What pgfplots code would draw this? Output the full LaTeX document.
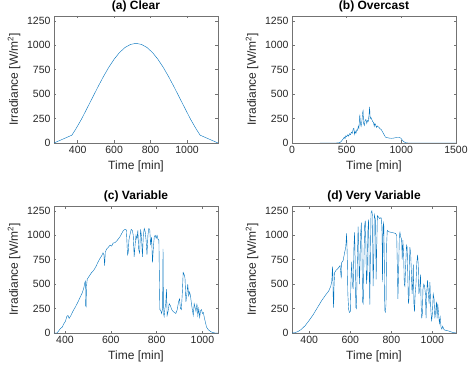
\documentclass[border=0pt]{standalone}
\usepackage{pgfplots}
\pgfplotsset{compat=1.18}
\usepackage{fontspec}
\setmainfont{Liberation Sans}
\definecolor{mblue}{rgb}{0,0.447,0.741}
\definecolor{axgray}{rgb}{0.15,0.15,0.15}
\pgfplotsset{mystyle/.style={
  scale only axis, width=164pt, height=127pt,
  ymin=0, ymax=1300, ytick={0,250,500,750,1000,1250},
  axis line style={draw=black!55, line width=0.5pt},
  tick style={draw=black!55, line width=0.5pt},
  major tick length=2.5pt,
  tick align=inside, xtick pos=both, ytick pos=both,
  ticklabel style={font=\fontsize{10.5}{10.5}\selectfont, text=axgray},
  /pgf/number format/assume math mode=true,
  /pgf/number format/1000 sep={},
  scaled ticks=false,
  label style={font=\fontsize{12}{12}\selectfont, text=axgray},
  title style={font=\bfseries\fontsize{12}{12}\selectfont, text=black, yshift=-6pt},
  xlabel={Time [min]}, ylabel={Irradiance [W/m\textsuperscript{2}]},
  cycle list={{mblue, line width=0.6pt, mark=none}},
  no markers,
  anchor=south west,
}}
\begin{document}
\begin{tikzpicture}
\useasboundingbox (0,0) rectangle (474pt,370pt);
% (a) Clear
\begin{axis}[mystyle, at={(54pt,227pt)}, xmin=270, xmax=1170, xtick={400,600,800,1000}, title={(a) Clear}]
\addplot coordinates {
(270,0) (368,80) (390,144) (420,241) (450,350) (480,460) (510,570) (540,676) (570,773)
(600,858) (630,927) (660,978) (690,1009) (720,1020) (750,1009) (780,978) (810,927)
(840,858) (870,773) (900,676) (930,570) (960,460) (990,350) (1020,241) (1050,144)
(1072,80) (1170,0)
};
\end{axis}
% (b) Overcast
\begin{axis}[mystyle, at={(292pt,227pt)}, xmin=0, xmax=1500, xtick={0,500,1000,1500}, title={(b) Overcast}]
\addplot coordinates {
(254,0) (300,0) (350,0) (400,0) (430,2) (445,10) (460,30) (470,45) (478,60) (485,45)
(492,75) (500,65) (510,85) (518,70) (526,95) (535,85) (543,110) (552,100) (560,145)
(566,150) (572,90) (578,120) (585,100) (592,135) (600,130) (606,170) (612,150) (620,290)
(626,200) (632,170) (640,230) (646,310) (650,330) (655,200) (662,180) (668,230) (676,240)
(684,200) (690,230) (697,220) (704,280) (710,370) (715,250) (722,260) (730,240) (738,220)
(746,210) (752,170) (758,200) (765,185) (772,160) (780,175) (788,165) (796,160) (805,145)
(815,140) (825,120) (835,100) (845,80) (855,60) (870,55) (890,50) (910,48) (930,50)
(950,55) (970,57) (985,55) (995,50) (1005,35) (1020,15) (1040,3) (1060,0) (1100,0)
(1200,0) (1300,0) (1400,0) (1500,0)
};
\end{axis}
% (c) Variable
\begin{axis}[mystyle, at={(54pt,37pt)}, xmin=352, xmax=1068, xtick={400,600,800,1000}, title={(c) Variable}]
\addplot coordinates {
(352,0) (365,0) (372,20) (380,45) (388,60) (395,95) (402,120) (408,170) (413,180) (418,150)
(425,175) (435,225) (445,265) (455,310) (465,360) (475,410) (482,460) (487,520) (489,530)
(490,280) (492,270) (494,480) (497,550) (505,580) (515,615) (525,640) (535,680) (545,730)
(552,760) (560,790) (566,820) (570,800) (573,690) (576,830) (582,860) (590,880) (597,900)
(604,890) (610,920) (618,925) (625,940) (632,960) (640,985) (648,1020) (655,1050) (662,1060)
(668,1055) (671,900) (673,800) (676,820) (679,950) (684,1010) (689,1060) (694,1050) (698,1000)
(702,780) (706,900) (710,1000) (714,960) (718,1050) (722,850) (726,820) (730,1060) (734,990)
(738,780) (742,1000) (746,1070) (750,1040) (754,950) (758,800) (762,1000) (766,1070) (770,1060)
(774,900) (778,980) (782,720) (786,880) (790,990) (794,1000) (798,970) (802,1000) (806,960)
(810,950) (814,240) (818,230) (822,200) (826,250) (828,860) (830,200) (833,170) (836,250)
(840,300) (843,450) (846,180) (850,220) (855,300) (860,280) (866,240) (872,220) (878,210)
(884,200) (890,240) (896,320) (900,350) (904,250) (908,240) (912,400) (916,620) (920,600)
(924,560) (928,320) (932,400) (936,500) (940,380) (944,420) (948,380) (952,300) (956,240)
(960,180) (964,300) (968,260) (972,220) (976,300) (980,180) (984,250) (988,160) (992,230)
(996,240) (1000,200) (1004,210) (1008,160) (1012,120) (1018,60) (1025,35) (1035,15) (1045,5)
(1055,0) (1068,0)
};
\end{axis}
% (d) Very Variable
\begin{axis}[mystyle, at={(292pt,37pt)}, xmin=316, xmax=1115, xtick={400,600,800,1000}, title={(d) Very Variable}]
\addplot coordinates {
(316,0) (330,3) (345,15) (360,35) (380,75) (400,130) (420,190) (440,260) (460,330) (480,390)
(495,430) (505,480) (510,530) (513,680) (515,600) (517,330) (519,260) (521,500) (524,620)
(530,640) (540,660) (550,690) (556,560) (558,720) (565,740) (572,820) (578,880) (582,1020)
(585,800) (588,400) (592,240) (596,210) (600,220) (604,600) (607,730) (610,500) (614,450)
(618,900) (621,1030) (624,700) (627,260) (630,250) (634,700) (638,1090) (641,900) (644,500)
(647,680) (650,1000) (654,1130) (657,800) (660,320) (663,300) (666,700) (670,1100) (673,1150)
(676,900) (679,500) (682,600) (686,1050) (689,1160) (692,700) (695,290) (698,800) (701,1230)
(705,1250) (708,1200) (711,480) (714,700) (717,1210) (720,1180) (723,1160) (726,550) (729,900)
(732,1200) (736,1190) (740,1180) (744,1170) (748,1180) (752,1175) (755,1000) (757,520) (760,1100)
(763,1130) (766,700) (768,230) (771,215) (774,300) (777,900) (780,1050) (785,1040) (790,1035)
(800,1030) (810,1025) (820,1020) (826,1000) (829,700) (832,350) (835,600) (839,1000) (842,1030)
(846,980) (850,960) (853,750) (856,950) (860,800) (863,500) (866,480) (870,700) (874,900)
(877,880) (880,600) (883,300) (886,350) (890,880) (894,820) (898,600) (901,400) (904,500)
(907,700) (910,300) (913,220) (916,400) (920,500) (924,720) (928,800) (931,700) (934,400)
(938,450) (942,600) (945,300) (948,150) (951,200) (954,450) (958,500) (962,480) (966,400)
(969,150) (972,400) (976,540) (980,420) (984,300) (988,520) (992,250) (996,120) (1000,200)
(1004,400) (1008,350) (1012,150) (1016,220) (1020,320) (1023,150) (1026,300) (1030,200) (1034,100)
(1038,160) (1042,60) (1046,40) (1050,70) (1055,40) (1060,30) (1070,25) (1080,20) (1090,12)
(1100,6) (1115,0)
};
\end{axis}
\end{tikzpicture}
\end{document}
